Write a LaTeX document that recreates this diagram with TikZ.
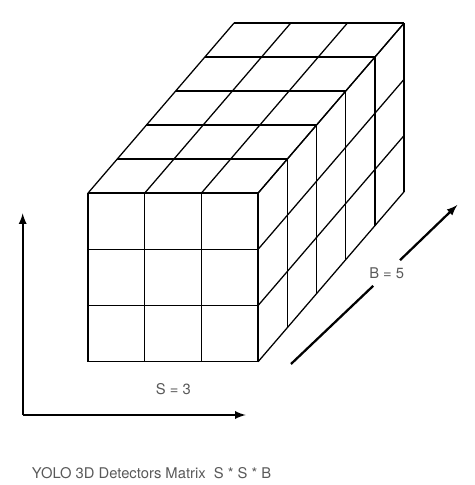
\documentclass[tikz,border=0pt]{standalone}
\usepackage{fontspec}
\setmainfont{TeX Gyre Heros}
\usepackage{tikz}
\usetikzlibrary{arrows, positioning, calc}

\begin{document}
\begin{tikzpicture}[
    cell/.style={black, line width=0.9pt},
    axis/.style={-latex, black, line width=1.6pt},
    label/.style={text=black!65, font=\fontsize{10.5}{12}\selectfont}
]
    \useasboundingbox (-2.2cm,-3.0825cm) rectangle (9.65cm,9.0425cm);

    % Lưới khối 3 x 3 x 5
    \begin{scope}[x={(1.4175cm,0)}, y={(0,1.405cm)}, z={(0.73cm,0.85cm)}]
        % mặt trước
        \foreach \i in {0,...,3} {
            \draw[cell] (\i,0,0) -- (\i,3,0);
            \draw[cell] (0,\i,0) -- (3,\i,0);
        }
        % mặt trên
        \foreach \i in {0,...,3}
            \draw[cell] (\i,3,0) -- (\i,3,5);
        \foreach \k in {0,...,5}
            \draw[cell] (0,3,\k) -- (3,3,\k);
        % mặt bên
        \foreach \j in {0,...,3}
            \draw[cell] (3,\j,0) -- (3,\j,5);
        \foreach \k in {0,...,5}
            \draw[cell] (3,0,\k) -- (3,3,\k);
    \end{scope}

    % Các trục
    \coordinate (origin) at (-1.6325,-1.3325);
    \coordinate (ytip) at (-1.6325,3.71);
    \coordinate (xtip) at (3.9425,-1.3325);
    \draw[axis] (origin) -- (ytip);
    \draw[axis] (origin) -- (xtip);

    % Chiều sâu B
    \coordinate (bstart) at (5.075,-0.0575);
    \coordinate (btip) at (9.2325,3.9175);
    \node[label, inner sep=5pt] (blabel) at (7.4675,2.2175) {B = 5};
    \draw[line width=1.6pt] (bstart) -- (blabel);
    \draw[axis] (blabel) -- (btip);

    \node[label] (slabel) at (2.1325,-0.6825) {S = 3};
    \node[label, anchor=west, inner sep=0pt] (title) at (-1.4075,-2.79) {YOLO 3D Detectors Matrix\ \ S * S * B};
\end{tikzpicture}
\end{document}
